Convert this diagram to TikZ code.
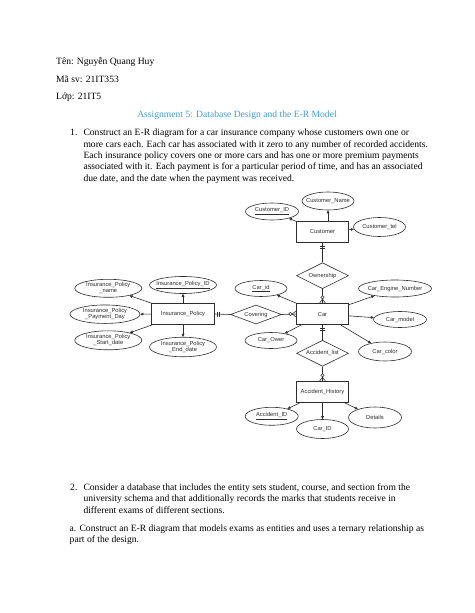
\documentclass[tikz,border=0pt]{standalone}
\usepackage{fontspec}
\setmainfont{Liberation Serif}
\newfontfamily\dfont{Liberation Sans}
\usetikzlibrary{shapes.geometric,arrows.meta,calc}
\definecolor{titleblue}{RGB}{60,160,220}
\definecolor{ln}{RGB}{45,45,45}
\begin{document}
\begin{tikzpicture}[x=1pt,y=-1pt,
  txt/.style={anchor=base west,inner sep=0,font=\fontsize{9.6}{11.4}\selectfont},
  ent/.style={draw=ln,line width=0.6pt,minimum width=52pt,minimum height=21pt,inner sep=0,font=\dfont\fontsize{5.8}{6.5}\selectfont,text=ln},
  attr/.style={ellipse,draw=ln,line width=0.6pt,minimum width=52pt,minimum height=17pt,inner xsep=-8pt,inner ysep=-2pt,font=\dfont\fontsize{5.8}{6.3}\selectfont,align=center,text=ln},
  rel/.style={diamond,draw=ln,line width=0.6pt,minimum width=52pt,minimum height=26pt,inner sep=0,aspect=2,font=\dfont\fontsize{5.8}{6.5}\selectfont,text=ln},
  arr/.style={draw=ln,line width=0.6pt,-{Triangle[length=3pt,width=2.6pt]}},
  con/.style={draw=ln,line width=0.6pt},
]
\useasboundingbox[fill=white] (0,0) rectangle (474,613);

% ---------- text ----------
\node[txt] (t1) at (56,64.7) {Tên: Nguyễn Quang Huy};
\node[txt] (t2) at (56,82.3) {Mã sv: 21IT353};
\node[txt] (t3) at (56,99.7) {Lớp: 21IT5};
\node[txt,anchor=base,text=titleblue] (title) at (237,117.7) {Assignment 5: Database Design and the E-R Model};
\node[txt] (n1) at (70,135.7) {1.};
\node[txt] (l1) at (83.3,135.7) {Construct an E-R diagram for a car insurance company whose customers own one or};
\node[txt] (l2) at (83.3,147.1) {more cars each. Each car has associated with it zero to any number of recorded accidents.};
\node[txt] (l3) at (83.3,158.5) {Each insurance policy covers one or more cars and has one or more premium payments};
\node[txt] (l4) at (83.3,169.9) {associated with it. Each payment is for a particular period of time, and has an associated};
\node[txt] (l5) at (83.3,181.3) {due date, and the date when the payment was received.};

\node[txt] (n2) at (70,490) {2.};
\node[txt] (m1) at (83.3,490) {Consider a database that includes the entity sets student, course, and section from the};
\node[txt] (m2) at (83.3,501.6) {university schema and that additionally records the marks that students receive in};
\node[txt] (m3) at (83.3,513.2) {different exams of different sections.};
\node[txt] (a1) at (69.5,531) {a. Construct an E-R diagram that models exams as entities and uses a ternary relationship as};
\node[txt] (a2) at (69.5,542.4) {part of the design.};

% ---------- entities ----------
\node[ent] (cust) at (322.5,232) {Customer};
\node[ent] (car) at (322.5,314) {Car};
\node[ent] (ah) at (322.5,392) {Accident\_History};
\node[ent,minimum width=62.5pt,minimum height=20.5pt] (ip) at (183,314) {Insurance\_Policy};

% ---------- relationships ----------
\node[rel] (own) at (322.5,275.7) {Ownership};
\node[rel] (al) at (322.5,353.3) {Accident\_list};
\node[rel,minimum width=51pt,minimum height=19pt] (cov) at (256,314.5) {Covering};

% ---------- attributes ----------
\node[attr,minimum height=18pt] (cname) at (328,201) {Customer\_Name};
\node[attr,minimum width=53pt] (cid) at (272,211.5) {\underline{Customer\_ID}};
\node[attr,minimum height=19pt] (ctel) at (379.5,227) {Customer\_tel};

\node[attr,minimum height=16pt] (carid) at (261,288.5) {\underline{Car\_id}};
\node[attr,minimum width=73pt,minimum height=17pt] (ceng) at (395,288.5) {Car\_Engine\_Number};
\node[attr,minimum width=53pt,minimum height=16pt] (cmod) at (400,319.5) {Car\_model};
\node[attr,minimum height=16pt] (cow) at (271,340.5) {Car\_Ower};
\node[attr,minimum width=53pt,minimum height=19pt] (ccol) at (385,351.5) {Car\_color};

\node[attr,minimum width=53pt,minimum height=18pt] (aid) at (271.7,416.3) {\underline{Accident\_ID}};
\node[attr,minimum height=19pt] (acid) at (322.5,429) {Car\_ID};
\node[attr,minimum width=53pt,minimum height=21pt] (adet) at (375,417.5) {Details};

\node[attr,minimum width=67pt,minimum height=17pt] (ipid) at (183,285) {\underline{Insurance\_Policy\_ID}};
\node[attr,minimum width=67pt,minimum height=18pt] (ipname) at (108.3,288.3) {Insurance\_Policy\\\_name};
\node[attr,minimum width=70pt,minimum height=18.5pt] (ippay) at (105,314.2) {Insurance\_Policy\\\_Payment\_Day};
\node[attr,minimum width=67pt,minimum height=19pt] (ipstart) at (108.3,340.3) {Insurance\_Policy\\\_Start\_date};
\node[attr,minimum width=67pt,minimum height=19.5pt] (ipend) at (183,347) {Insurance\_Policy\\\_End\_date};

% ---------- attribute arrows ----------
\draw[arr] (cust) -- (cid);
\draw[arr] (cust.north -| cname.south) -- (cname.south);
\draw[arr] (cust) -- (ctel);

\draw[arr] (car) -- (carid);
\draw[arr] (car) -- (ceng);
\draw[arr] (car) -- (cmod);
\draw[arr] (car) -- (cow);
\draw[arr] (car) -- (ccol);

\draw[arr] (ah) -- (aid);
\draw[arr] (ah) -- (acid);
\draw[arr] (ah) -- (adet);

\draw[arr] (ip) -- (ipid);
\draw[arr] (ip) -- (ipname);
\draw[arr] (ip) -- (ippay);
\draw[arr] (ip) -- (ipstart);
\draw[arr] (ip) -- (ipend);

% ---------- relationship connectors ----------
% Customer -- Ownership (one and only one)
\draw[con] (cust.south) -- (own.north);
\draw[con] ($(cust.south)+(-2.5,3)$) -- ++(5,0);
\draw[con] ($(cust.south)+(-2.5,5)$) -- ++(5,0);
% Ownership -- Car (zero or many)
\draw[con] (own.south) -- (car.north);
\draw[con] ($(car.north)+(0,-4)$) -- ($(car.north)+(-3,0)$);
\draw[con] ($(car.north)+(0,-4)$) -- ($(car.north)+(3,0)$);
\draw[con,fill=white] ($(car.north)+(0,-5.8)$) circle (1.6pt);

% Insurance_Policy -- Covering
\draw[con] (ip.east) -- (cov.west);
\draw[con] ($(ip.east)+(2.5,-2.5)$) -- ++(0,5);
\draw[con] ($(ip.east)+(4.5,-2.5)$) -- ++(0,5);
% Covering -- Car
\draw[con] (cov.east) -- (car.west);
\draw[con] ($(car.west)+(-4,0)$) -- ($(car.west)+(0,-3)$);
\draw[con] ($(car.west)+(-4,0)$) -- ($(car.west)+(0,3)$);
\draw[con,fill=white] ($(car.west)+(-5.8,0)$) circle (1.6pt);

% Car -- Accident_list
\draw[con] (car.south) -- (al.north);
\draw[con] ($(car.south)+(-2.5,3)$) -- ++(5,0);
\draw[con] ($(car.south)+(-2.5,5)$) -- ++(5,0);
% Accident_list -- Accident_History
\draw[con] (al.south) -- (ah.north);
\draw[con] ($(ah.north)+(0,-4)$) -- ($(ah.north)+(-3,0)$);
\draw[con] ($(ah.north)+(0,-4)$) -- ($(ah.north)+(3,0)$);
\draw[con,fill=white] ($(ah.north)+(0,-5.8)$) circle (1.6pt);
\end{tikzpicture}
\end{document}
